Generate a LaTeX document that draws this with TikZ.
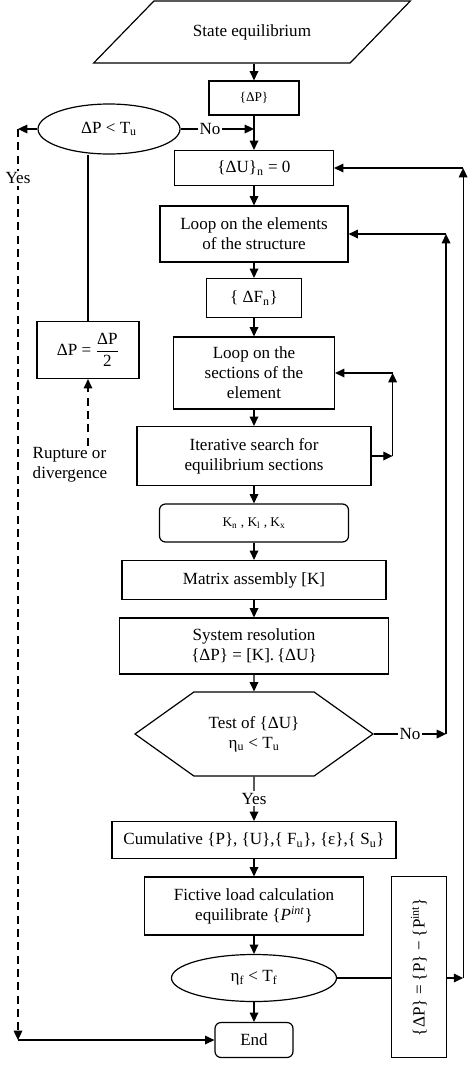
\documentclass[tikz,border=0pt]{standalone}
\usepackage{fontspec}
\setmainfont{Liberation Serif}
\usetikzlibrary{arrows.meta,shapes.geometric,shapes.symbols}
\begin{document}
\begin{tikzpicture}[x=0.75pt, y=-0.75pt,
  font=\fontsize{12.8}{15}\selectfont,
  line width=0.9pt,
  box/.style={draw, align=center, inner sep=2pt},
  rbox/.style={box, rounded corners=4.5pt},
  oval/.style={draw, ellipse, inner sep=1pt},
  small/.style={font=\fontsize{10}{12}\selectfont},
  flow/.style={-{Triangle[length=7pt,width=6.5pt]}},
  lbl/.style={fill=white, inner sep=1.5pt}
]
\useasboundingbox (0,0) rectangle (474,1065);
\node[draw, trapezium, trapezium left angle=32, trapezium right angle=148, trapezium stretches=true, minimum width=237.75pt, minimum height=46.5pt] (state) at (252,32) {State equilibrium};
\node[box, small, minimum width=67.5pt, minimum height=25.5pt] (dp) at (254,98) {\{ΔP\}};
\node[oval, minimum width=106.5pt, minimum height=37.5pt] (dpt) at (109,129) {ΔP < T\textsubscript{u}};
\node[box, minimum width=119.25pt, minimum height=26.25pt] (du) at (254,168) {\{ΔU\}\textsubscript{n} = 0};
\node[box, minimum width=76.5pt, minimum height=42.75pt] (half) at (88,350) {ΔP = \(\displaystyle\frac{\mbox{ΔP}}{\mbox{2}}\)};
\node[align=left, inner sep=1pt] (rupt) at (70,465) {Rupture or\\divergence};
\node[box, minimum width=141pt, minimum height=42pt] (loopel) at (254,234) {Loop on the elements\\of the structure};
\node[box, minimum width=71.25pt, minimum height=29.25pt] (df) at (254,298) {\{ ΔF\textsubscript{n}\}};
\node[box, minimum width=120.75pt, minimum height=54pt] (loopsec) at (254,373) {Loop on the\\sections of the\\element};
\node[box, minimum width=175.5pt, minimum height=44.25pt] (iter) at (254,456) {Iterative search for\\equilibrium sections};
\node[rbox, small, minimum width=141.75pt, minimum height=28.5pt] (kmat) at (254,523) {K\textsubscript{n} , K\textsubscript{l} , K\textsubscript{x}};
\node[box, minimum width=198pt, minimum height=29.25pt] (assem) at (254,580) {Matrix assembly [K]};
\node[box, minimum width=201.75pt, minimum height=42pt] (solve) at (254,646) {System resolution\\\{ΔP\} = [K].\,\{ΔU\}};
\node[draw, signal, signal to=west and east, signal pointer angle=71, minimum width=178.5pt, minimum height=63pt, align=center, inner sep=1pt] (test) at (254,734) {Test of \{ΔU\}\\η\textsubscript{u} < T\textsubscript{u}};
\node[box, minimum width=213pt, minimum height=27.75pt] (cumul) at (254,840) {Cumulative \{P\}, \{U\},\{ F\textsubscript{u}\}, \{ε\},\{ S\textsubscript{u}\}};
\node[box, minimum width=164.25pt, minimum height=43.5pt] (fict) at (254,906) {Fictive load calculation\\equilibrate \{\textit{P}\textsuperscript{\textit{int}}\}};
\node[oval, minimum width=123.75pt, minimum height=35.25pt] (etaf) at (254,978) {η\textsubscript{f} < T\textsubscript{f}};
\node[rbox, minimum width=58.5pt, minimum height=26.25pt] (fin) at (254,1040) {End};
\node[box, rotate=90, minimum width=135.75pt, minimum height=41.25pt] (dpint) at (419,967) {\{ΔP\} = \{P\} − \{P\textsuperscript{int}\}};
\coordinate (yestop) at (18,129);
\coordinate (yesbot) at (18,1040);
\draw[flow] (dp.north |- state.south) -- (dp);
\draw[flow] (dp) -- (du);
\draw[flow] (dpt.east) -- node[lbl, pos=0.4] {No} (dp.south |- dpt.east);
\draw[flow] (dpt.west) -- (yestop);
\draw[flow, dash pattern=on 6pt off 4pt] (yestop) -- node[lbl, pos=0.054] {Yes} (yesbot);
\draw[flow] (yesbot) -- (fin.west);
\draw (dpt.south -| half.north) -- (half.north);
\draw[flow, dash pattern=on 6pt off 4pt] (rupt.north -| half.south) -- (half.south);
\draw[flow] (du) -- (loopel);
\draw[flow] (loopel) -- (df);
\draw[flow] (df) -- (loopsec);
\draw[flow] (loopsec) -- (iter);
\draw[flow] (iter) -- (kmat);
\draw[flow] (kmat) -- (assem);
\draw[flow] (assem) -- (solve);
\draw[flow] (solve) -- (test);
\draw[flow] (test) -- node[lbl] {Yes} (cumul);
\draw[flow] (cumul) -- (fict);
\draw[flow] (fict) -- (etaf);
\draw[flow] (etaf) -- (fin);
\draw[flow] (iter.east) -- ++(21,0) coordinate (itr);
\draw[flow] (itr) -- (itr |- loopsec.east);
\draw[flow] (itr |- loopsec.east) -- (loopsec.east);
\draw[flow] (test.east) -- node[lbl] {No} ++(72,0) coordinate (nor);
\draw[flow] (nor) -- (nor |- loopel.east);
\draw[flow] (nor |- loopel.east) -- (loopel.east);
\draw (etaf.east) -- (dpint.north |- etaf.east);
\draw[flow] (dpint.south |- etaf.east) -- ++(16,0) coordinate (rotr);
\draw[flow] (rotr) -- (rotr |- du.east);
\draw[flow] (rotr |- du.east) -- (du.east);
\end{tikzpicture}
\end{document}
